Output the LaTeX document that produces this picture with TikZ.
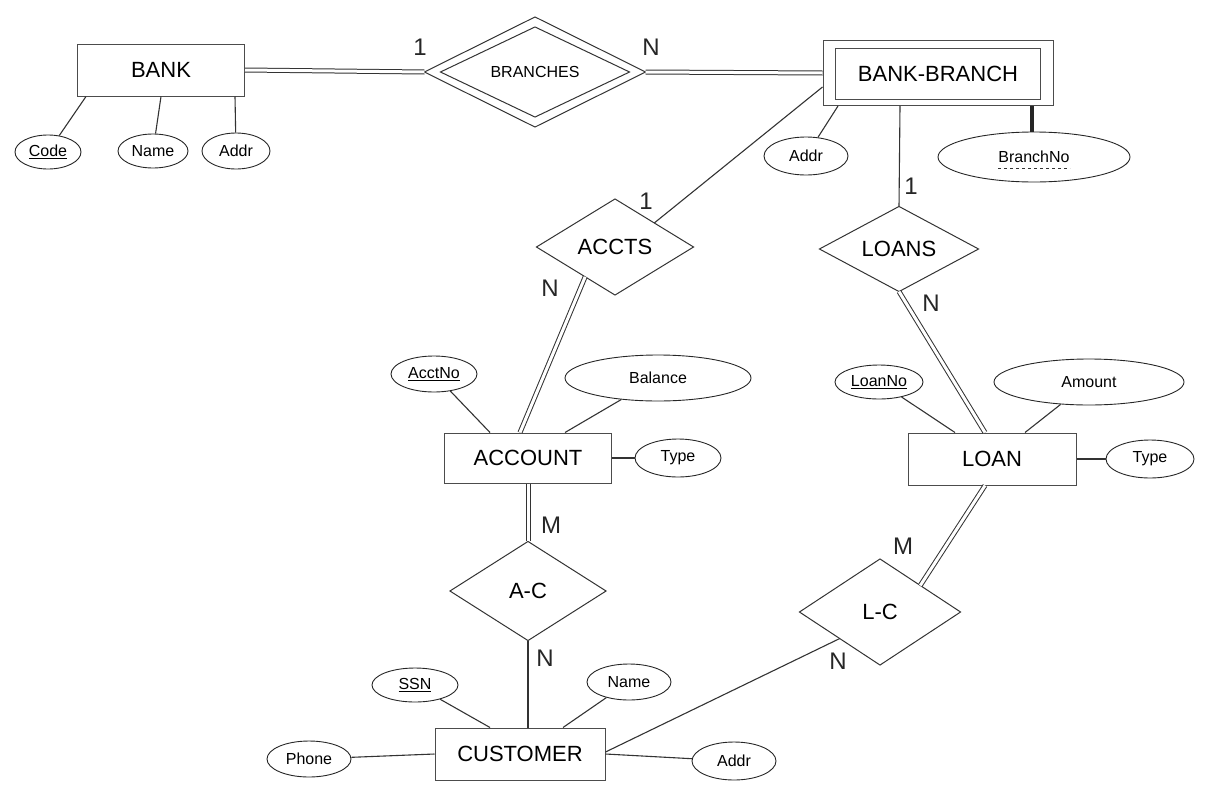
\documentclass[tikz,border=0pt]{standalone}
\usepackage{fontspec}
\setmainfont{Liberation Sans}
\usetikzlibrary{shapes.geometric,calc}
\begin{document}
\begin{tikzpicture}[x=1pt,y=-1pt,line width=1.1pt,draw=black!80,
  ent/.style={draw=black!70,rectangle,line width=1pt,font=\fontsize{22}{24}\selectfont,inner sep=0},
  att/.style={draw=black!85,ellipse,line width=0.9pt,inner sep=0,font=\fontsize{16}{18}\selectfont},
  rel/.style={rectangle,inner sep=0,font=\fontsize{22}{24}\selectfont},
  dia/.style={draw=black!80,line width=1pt},
  card/.style={font=\fontsize{24}{26}\selectfont,text=black!85},
  dbl/.style={double=white,double distance=3pt,line width=1pt,draw=black!80},
  ln/.style={line width=1.1pt,draw=black!80}]
\useasboundingbox (0,0) rectangle (1217,806);
% entities
\node[ent,minimum width=167,minimum height=52] (bank) at (161,70) {BANK};
\node[ent,minimum width=230,minimum height=65] (bbo) at (938,73) {};
\node[ent,minimum width=205,minimum height=51] (bbi) at (938,74) {BANK-BRANCH};
\node[ent,minimum width=167,minimum height=50] (acc) at (528,458) {ACCOUNT};
\node[ent,minimum width=168,minimum height=52] (loan) at (992,459) {LOAN};
\node[ent,minimum width=170,minimum height=52] (cust) at (520,754) {CUSTOMER};
% relationships
\node[rel,minimum width=220,minimum height=109] (br) at (535,72) {};
\node[rel,minimum width=188,minimum height=89,font=\fontsize{16}{18}\selectfont] (bri) at (535,72) {BRANCHES};
\node[rel,minimum width=156,minimum height=95] (accts) at (615,247) {ACCTS};
\node[rel,minimum width=158,minimum height=84] (loans) at (899,249) {LOANS};
\node[rel,minimum width=155,minimum height=98] (ac) at (528,591) {A-C};
\node[rel,minimum width=160,minimum height=105] (lc) at (880,612) {L-C};
\foreach \d in {br,bri,accts,loans,ac,lc}
  \draw[dia] (\d.north) -- (\d.east) -- (\d.south) -- (\d.west) -- cycle;
% attributes
\node[att,minimum width=66,minimum height=34] (code) at (48,152) {\underline{Code}};
\node[att,minimum width=70,minimum height=34] (bname) at (153,151) {Name};
\node[att,minimum width=68,minimum height=36] (baddr) at (236,151) {Addr};
\node[att,minimum width=84,minimum height=38] (bbaddr) at (806,156) {Addr};
\node[att,minimum width=192,minimum height=50] (bno) at (1034,157) {BranchNo};
\draw[dashed,line width=0.8pt] ([xshift=-36,yshift=-11]bno.center) -- ([xshift=36,yshift=-11]bno.center);
\node[att,minimum width=86,minimum height=36] (acctno) at (434,374) {\underline{AcctNo}};
\node[att,minimum width=186,minimum height=46] (bal) at (658,378) {Balance};
\node[att,minimum width=86,minimum height=38] (atype) at (678,458) {Type};
\node[att,minimum width=88,minimum height=34] (loanno) at (879,382) {\underline{LoanNo}};
\node[att,minimum width=190,minimum height=46] (amt) at (1089,382) {Amount};
\node[att,minimum width=88,minimum height=38] (ltype) at (1150,459) {Type};
\node[att,minimum width=86,minimum height=34] (ssn) at (415,685) {\underline{SSN}};
\node[att,minimum width=84,minimum height=36] (cname) at (629,682) {Name};
\node[att,minimum width=84,minimum height=36] (phone) at (309,759) {Phone};
\node[att,minimum width=84,minimum height=38] (caddr) at (734,761) {Addr};
% attribute lines
\draw[ln] ([xshift=-75]bank.south) -- (code);
\draw[ln] (bank.south) -- (bname);
\draw[ln] ([xshift=74]bank.south) -- (baddr);
\draw[ln] ([xshift=-100]bbo.south) -- (bbaddr);
\draw[line width=4pt,draw=black!85] ([xshift=94]bbo.south) -- ([xshift=-2]bno.north);
\draw[ln] ([xshift=-38]acc.north) -- (acctno);
\draw[ln] ([xshift=37]acc.north) -- (bal);
\draw[ln] (acc.east) -- (atype);
\draw[ln] ([xshift=-37]loan.north) -- (loanno);
\draw[ln] ([xshift=33]loan.north) -- (amt);
\draw[ln] (loan.east) -- (ltype);
\draw[ln] ([xshift=-30]cust.north) -- (ssn);
\draw[ln] ([xshift=43]cust.north) -- (cname);
\draw[ln] (cust.west) -- (phone);
\draw[ln] (cust.east) -- (caddr);
% relationship lines
\draw[dbl] (bank.east) -- (br.west);
\draw[dbl] (br.east) -- (bbo.west);
\draw[ln] ([yshift=-14]bbo.west) -- ($(accts.north)!0.5!(accts.east)$);
\draw[ln] ([xshift=-38]bbo.south) -- (loans.north);
\draw[dbl] ($(accts.south)!0.38!(accts.west)$) -- ([xshift=-8]acc.north);
\draw[dbl] (loans.south) -- ([xshift=-7]loan.north);
\draw[dbl] (acc.south) -- (ac.north);
\draw[ln] (ac.south) -- ([xshift=8]cust.north);
\draw[dbl] ([xshift=-7]loan.south) -- ($(lc.north)!0.5!(lc.east)$);
\draw[ln] ([yshift=2]cust.east) -- ($(lc.south)!0.5!(lc.west)$);
% cardinalities
\node[card] at (420,47) {1};
\node[card] at (651,47) {N};
\node[card] at (646,201) {1};
\node[card] at (911,186) {1};
\node[card] at (550,288) {N};
\node[card] at (931,303) {N};
\node[card] at (551,525) {M};
\node[card] at (903,546) {M};
\node[card] at (545,658) {N};
\node[card] at (838,661) {N};
\end{tikzpicture}
\end{document}
